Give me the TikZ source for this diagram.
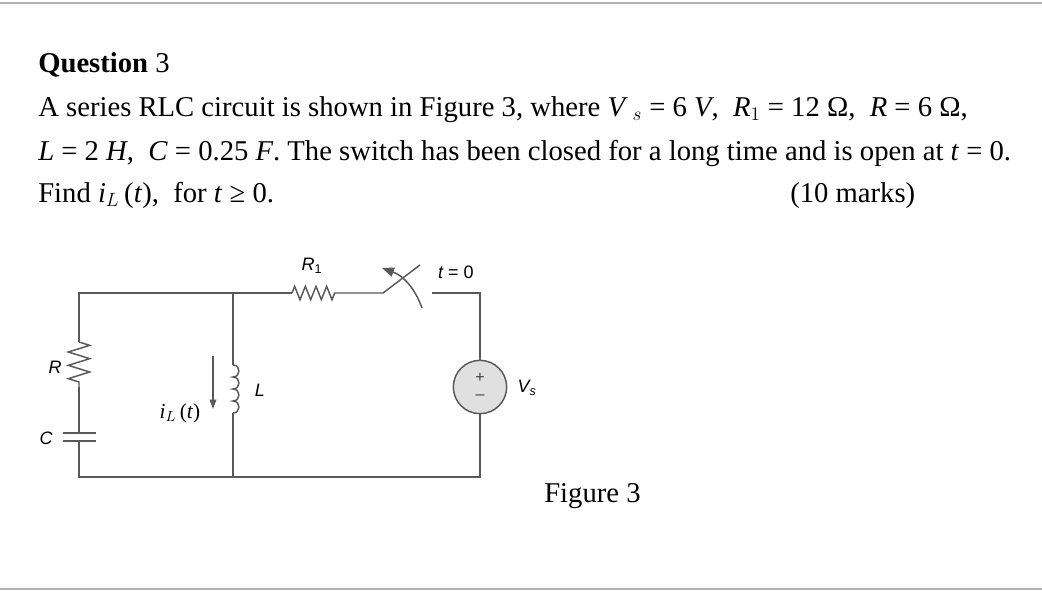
\documentclass[tikz,border=0pt]{standalone}
\usepackage{fontspec}
\setmainfont{Liberation Serif}
\newfontfamily\arial{Liberation Sans}
\usetikzlibrary{decorations.pathmorphing,arrows.meta}
\newcommand{\vi}[1]{\textit{#1}}
\begin{document}
\begin{tikzpicture}[x=0.75pt,y=-0.75pt,
  wire/.style={draw=black!65,line width=1.1pt},
  qtext/.style={anchor=base west,inner sep=0,font=\fontsize{21.5}{23}\selectfont},
  clab/.style={inner sep=0,font=\arial\fontsize{13.5}{15}\selectfont\itshape}]
\useasboundingbox (0,0) rectangle (1042,593);
\draw[black!30,line width=1pt] (0,3) -- (1042,3);
\draw[black!30,line width=1pt] (0,589) -- (1042,589);
\node[qtext] (q) at (38,72) {\textbf{Question} 3};
\node[qtext] (l1) at (38,116) {A series RLC circuit is shown in Figure 3, where \vi{V}\,$_{s}$ = 6 \vi{V}, \ \vi{R}$_{1}$ = 12 Ω, \ \vi{R} = 6 Ω,};
\node[qtext] (l2) at (38,160) {\vi{L} = 2 \vi{H}, \ \vi{C} = 0.25 \vi{F}. The switch has been closed for a long time and is open at \vi{t} = 0.};
\node[qtext] (l3) at (38,202) {Find \vi{i}$_{L}$\,(\vi{t}), \ for \vi{t} ≥ 0.};
\node[qtext] (mk) at (790,202) {(10 marks)};
\node[qtext] (fig) at (544,502) {Figure 3};
% circuit coordinates
\coordinate (TL) at (79,293); \coordinate (BL) at (79,477);
\coordinate (TM) at (233,293); \coordinate (BM) at (233,477);
\coordinate (TR) at (480,293); \coordinate (BR) at (480,477);
\coordinate (Ra) at (79,342); \coordinate (Rb) at (79,387);
\coordinate (Ca) at (79,433); \coordinate (Cb) at (79,441);
\coordinate (La) at (233,365); \coordinate (Lb) at (233,413);
\coordinate (R1a) at (292,293); \coordinate (R1b) at (338,293);
\coordinate (Sp) at (383,293); \coordinate (Sb) at (420,265); \coordinate (Sc) at (432,293);
\node[circle,draw=black!65,line width=1.1pt,fill=black!12,minimum size=40,inner sep=0] (V) at (480,387) {};
\node[font=\arial\fontsize{12}{12}\selectfont,text=black!75,inner sep=0] at (480,378) {+};
\node[font=\arial\fontsize{12}{12}\selectfont,text=black!75,inner sep=0] at (480,397) {–};
% wires
\draw[wire] (Ra) -- (TL) -- (TM) -- (R1a);
\draw[wire] (R1b) -- (Sp) -- (Sb);
\draw[wire] (Sc) -- (TR) -- (V.north);
\draw[wire] (V.south) -- (BR) -- (BM) -- (BL) -- (Cb);
\draw[wire] (Rb) -- (Ca);
\draw[wire] (TM) -- (La); \draw[wire] (Lb) -- (BM);
\draw[wire,decorate,decoration={zigzag,segment length=10,amplitude=8}] (Ra) -- (Rb);
\draw[wire,decorate,decoration={zigzag,segment length=8,amplitude=5}] (R1a) -- (R1b);
\draw[wire] (63,433) -- (96,433); \draw[wire] (63,441) -- (96,441);
\draw[wire] (La) to[out=0,in=0,looseness=1.7] (233,377) to[out=0,in=0,looseness=1.7] (233,389)
  to[out=0,in=0,looseness=1.7] (233,401) to[out=0,in=0,looseness=1.7] (Lb);
\draw[wire,-{Triangle[length=9,width=7]}] (422,308) to[bend right=25] (382,268);
\draw[wire,-{Triangle[length=7,width=5]},line width=0.9pt] (213,356) -- (213,409);
% labels
\node[clab] at (312,266) {R\textsubscript{\upshape 1}};
\node[clab] at (456,272) {t {\upshape =} \upshape 0};
\node[clab] at (55,367) {R};
\node[clab] at (46,438) {C};
\node[clab] at (260,390) {L};
\node[clab] at (527,388) {V\textsubscript{s}};
\node[inner sep=0,font=\fontsize{16}{17}\selectfont] at (180,413) {\vi{i}$_{L}$\,(\vi{t})};
\end{tikzpicture}
\end{document}
